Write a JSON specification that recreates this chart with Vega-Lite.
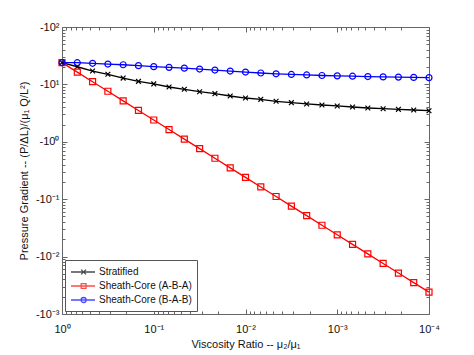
{
  "$schema": "https://vega.github.io/schema/vega-lite/v6.json",
  "width": 367,
  "height": 287,
  "autosize": {"type": "none"},
  "padding": {"left": 62, "top": 27, "right": 45, "bottom": 41},
  "background": "white",
  "config": {
    "font": "Liberation Sans",
    "view": {"stroke": null},
    "axis": {
      "grid": false,
      "domainColor": "#666",
      "tickColor": "#666",
      "labelColor": "#111",
      "labelFontSize": 11,
      "titleFontSize": 11,
      "titleFontWeight": "normal",
      "titleColor": "#111",
      "labelOverlap": false,
      "labelFlush": false,
      "labelBound": false
    }
  },
  "data": {
    "values": [
      {"ratio": 1, "gradient": -24, "series": "Stratified"},
      {"ratio": 0.681292, "gradient": -20.3, "series": "Stratified"},
      {"ratio": 0.464159, "gradient": -17.1, "series": "Stratified"},
      {"ratio": 0.316228, "gradient": -15.0, "series": "Stratified"},
      {"ratio": 0.215443, "gradient": -12.9, "series": "Stratified"},
      {"ratio": 0.14678, "gradient": -11.3, "series": "Stratified"},
      {"ratio": 0.1, "gradient": -10.2, "series": "Stratified"},
      {"ratio": 0.0681292, "gradient": -9.01, "series": "Stratified"},
      {"ratio": 0.0464159, "gradient": -8.22, "series": "Stratified"},
      {"ratio": 0.0316228, "gradient": -7.46, "series": "Stratified"},
      {"ratio": 0.0215443, "gradient": -6.89, "series": "Stratified"},
      {"ratio": 0.014678, "gradient": -6.28, "series": "Stratified"},
      {"ratio": 0.01, "gradient": -5.79, "series": "Stratified"},
      {"ratio": 0.00681292, "gradient": -5.5, "series": "Stratified"},
      {"ratio": 0.00464159, "gradient": -5.08, "series": "Stratified"},
      {"ratio": 0.00316228, "gradient": -4.8, "series": "Stratified"},
      {"ratio": 0.00215443, "gradient": -4.56, "series": "Stratified"},
      {"ratio": 0.0014678, "gradient": -4.38, "series": "Stratified"},
      {"ratio": 0.001, "gradient": -4.21, "series": "Stratified"},
      {"ratio": 0.000681292, "gradient": -4.04, "series": "Stratified"},
      {"ratio": 0.000464159, "gradient": -3.88, "series": "Stratified"},
      {"ratio": 0.000316228, "gradient": -3.77, "series": "Stratified"},
      {"ratio": 0.000215443, "gradient": -3.68, "series": "Stratified"},
      {"ratio": 0.00014678, "gradient": -3.58, "series": "Stratified"},
      {"ratio": 0.0001, "gradient": -3.48, "series": "Stratified"},
      {"ratio": 1, "gradient": -24, "series": "Sheath-Core (A-B-A)"},
      {"ratio": 0.681292, "gradient": -16.35, "series": "Sheath-Core (A-B-A)"},
      {"ratio": 0.464159, "gradient": -11.14, "series": "Sheath-Core (A-B-A)"},
      {"ratio": 0.316228, "gradient": -7.59, "series": "Sheath-Core (A-B-A)"},
      {"ratio": 0.215443, "gradient": -5.17, "series": "Sheath-Core (A-B-A)"},
      {"ratio": 0.14678, "gradient": -3.52, "series": "Sheath-Core (A-B-A)"},
      {"ratio": 0.1, "gradient": -2.4, "series": "Sheath-Core (A-B-A)"},
      {"ratio": 0.0681292, "gradient": -1.635, "series": "Sheath-Core (A-B-A)"},
      {"ratio": 0.0464159, "gradient": -1.114, "series": "Sheath-Core (A-B-A)"},
      {"ratio": 0.0316228, "gradient": -0.759, "series": "Sheath-Core (A-B-A)"},
      {"ratio": 0.0215443, "gradient": -0.517, "series": "Sheath-Core (A-B-A)"},
      {"ratio": 0.014678, "gradient": -0.352, "series": "Sheath-Core (A-B-A)"},
      {"ratio": 0.01, "gradient": -0.24, "series": "Sheath-Core (A-B-A)"},
      {"ratio": 0.00681292, "gradient": -0.1635, "series": "Sheath-Core (A-B-A)"},
      {"ratio": 0.00464159, "gradient": -0.1114, "series": "Sheath-Core (A-B-A)"},
      {"ratio": 0.00316228, "gradient": -0.0759, "series": "Sheath-Core (A-B-A)"},
      {"ratio": 0.00215443, "gradient": -0.0517, "series": "Sheath-Core (A-B-A)"},
      {"ratio": 0.0014678, "gradient": -0.0352, "series": "Sheath-Core (A-B-A)"},
      {"ratio": 0.001, "gradient": -0.024, "series": "Sheath-Core (A-B-A)"},
      {"ratio": 0.000681292, "gradient": -0.01635, "series": "Sheath-Core (A-B-A)"},
      {"ratio": 0.000464159, "gradient": -0.01114, "series": "Sheath-Core (A-B-A)"},
      {"ratio": 0.000316228, "gradient": -0.00759, "series": "Sheath-Core (A-B-A)"},
      {"ratio": 0.000215443, "gradient": -0.00517, "series": "Sheath-Core (A-B-A)"},
      {"ratio": 0.00014678, "gradient": -0.00352, "series": "Sheath-Core (A-B-A)"},
      {"ratio": 0.0001, "gradient": -0.0024, "series": "Sheath-Core (A-B-A)"},
      {"ratio": 1, "gradient": -24, "series": "Sheath-Core (B-A-B)"},
      {"ratio": 0.681292, "gradient": -23.9, "series": "Sheath-Core (B-A-B)"},
      {"ratio": 0.464159, "gradient": -23.3, "series": "Sheath-Core (B-A-B)"},
      {"ratio": 0.316228, "gradient": -22.6, "series": "Sheath-Core (B-A-B)"},
      {"ratio": 0.215443, "gradient": -22.0, "series": "Sheath-Core (B-A-B)"},
      {"ratio": 0.14678, "gradient": -21.2, "series": "Sheath-Core (B-A-B)"},
      {"ratio": 0.1, "gradient": -20.4, "series": "Sheath-Core (B-A-B)"},
      {"ratio": 0.0681292, "gradient": -19.8, "series": "Sheath-Core (B-A-B)"},
      {"ratio": 0.0464159, "gradient": -19.2, "series": "Sheath-Core (B-A-B)"},
      {"ratio": 0.0316228, "gradient": -18.5, "series": "Sheath-Core (B-A-B)"},
      {"ratio": 0.0215443, "gradient": -17.8, "series": "Sheath-Core (B-A-B)"},
      {"ratio": 0.014678, "gradient": -17.1, "series": "Sheath-Core (B-A-B)"},
      {"ratio": 0.01, "gradient": -16.4, "series": "Sheath-Core (B-A-B)"},
      {"ratio": 0.00681292, "gradient": -15.8, "series": "Sheath-Core (B-A-B)"},
      {"ratio": 0.00464159, "gradient": -15.3, "series": "Sheath-Core (B-A-B)"},
      {"ratio": 0.00316228, "gradient": -14.9, "series": "Sheath-Core (B-A-B)"},
      {"ratio": 0.00215443, "gradient": -14.6, "series": "Sheath-Core (B-A-B)"},
      {"ratio": 0.0014678, "gradient": -14.3, "series": "Sheath-Core (B-A-B)"},
      {"ratio": 0.001, "gradient": -14.1, "series": "Sheath-Core (B-A-B)"},
      {"ratio": 0.000681292, "gradient": -13.9, "series": "Sheath-Core (B-A-B)"},
      {"ratio": 0.000464159, "gradient": -13.7, "series": "Sheath-Core (B-A-B)"},
      {"ratio": 0.000316228, "gradient": -13.5, "series": "Sheath-Core (B-A-B)"},
      {"ratio": 0.000215443, "gradient": -13.4, "series": "Sheath-Core (B-A-B)"},
      {"ratio": 0.00014678, "gradient": -13.25, "series": "Sheath-Core (B-A-B)"},
      {"ratio": 0.0001, "gradient": -13.1, "series": "Sheath-Core (B-A-B)"}
    ]
  },
  "layer": [
    {
      "mark": {"type": "line", "strokeWidth": 1.3},
      "encoding": {
        "x": {
          "field": "ratio", "type": "quantitative",
          "scale": {"type": "log", "domain": [0.0001, 1], "reverse": true, "nice": false},
          "axis": {
            "orient": "bottom",
            "title": "Viscosity Ratio -- μ₂/μ₁",
            "titlePadding": 2,
            "values": [1, 0.9, 0.8, 0.7, 0.6, 0.5, 0.4, 0.3, 0.2, 0.1, 0.09, 0.08, 0.07, 0.06, 0.05, 0.04, 0.03, 0.02, 0.01, 0.009, 0.008, 0.007, 0.006, 0.005, 0.004, 0.003, 0.002, 0.001, 0.0009, 0.0008, 0.0007, 0.0006, 0.0005, 0.0004, 0.0003, 0.0002, 0.0001],
            "labelExpr": "abs(log(datum.value)/LN10 - round(log(datum.value)/LN10)) < 0.001 ? '10' + ['⁻⁴','⁻³','⁻²','⁻¹','⁰'][round(log(datum.value)/LN10) + 4] : ''",
            "labelPadding": 14,
            "tickSize": {"condition": {"test": "abs(log(datum.value)/LN10 - round(log(datum.value)/LN10)) < 0.001", "value": -5}, "value": -3}
          }
        },
        "y": {
          "field": "gradient", "type": "quantitative",
          "scale": {"type": "log", "domain": [-0.001, -100], "nice": false},
          "axis": {
            "orient": "left",
            "title": "Pressure Gradient -- (P/ΔL)/(μ₁ Q/L²)",
            "titlePadding": 6,
            "values": [-100, -90, -80, -70, -60, -50, -40, -30, -20, -10, -9, -8, -7, -6, -5, -4, -3, -2, -1, -0.9, -0.8, -0.7, -0.6, -0.5, -0.4, -0.3, -0.2, -0.1, -0.09, -0.08, -0.07, -0.06, -0.05, -0.04, -0.03, -0.02, -0.01, -0.009, -0.008, -0.007, -0.006, -0.005, -0.004, -0.003, -0.002, -0.001],
            "labelExpr": "abs(log(abs(datum.value))/LN10 - round(log(abs(datum.value))/LN10)) < 0.001 ? '-10' + ['⁻³','⁻²','⁻¹','⁰','¹','²'][round(log(abs(datum.value))/LN10) + 3] : ''",
            "labelPadding": 8,
            "tickSize": {"condition": {"test": "abs(log(abs(datum.value))/LN10 - round(log(abs(datum.value))/LN10)) < 0.001", "value": -5}, "value": -3}
          }
        },
        "color": {
          "field": "series", "type": "nominal",
          "scale": {"domain": ["Stratified", "Sheath-Core (A-B-A)", "Sheath-Core (B-A-B)"], "range": ["#000000", "#ff0000", "#0000ff"]},
          "legend": null
        },
        "detail": {"field": "series"}
      }
    },
    {
      "mark": {"type": "point", "filled": false, "strokeWidth": 1.2, "size": 36, "opacity": 1},
      "encoding": {
        "x": {"field": "ratio", "type": "quantitative", "axis": null},
        "y": {"field": "gradient", "type": "quantitative", "axis": null},
        "color": {
          "field": "series", "type": "nominal",
          "scale": {"domain": ["Stratified", "Sheath-Core (A-B-A)", "Sheath-Core (B-A-B)"], "range": ["#000000", "#ff0000", "#0000ff"]},
          "legend": null
        },
        "shape": {
          "field": "series", "type": "nominal",
          "scale": {"domain": ["Stratified", "Sheath-Core (A-B-A)", "Sheath-Core (B-A-B)"], "range": ["M-0.8,-0.8L0.8,0.8M-0.8,0.8L0.8,-0.8", "square", "circle"]},
          "legend": null
        }
      }
    },
    {
      "mark": {"type": "point", "opacity": 0},
      "encoding": {
        "x": {
          "field": "ratio", "type": "quantitative",
          "axis": {
            "orient": "top", "title": null, "labels": false,
            "values": [1, 0.9, 0.8, 0.7, 0.6, 0.5, 0.4, 0.3, 0.2, 0.1, 0.09, 0.08, 0.07, 0.06, 0.05, 0.04, 0.03, 0.02, 0.01, 0.009, 0.008, 0.007, 0.006, 0.005, 0.004, 0.003, 0.002, 0.001, 0.0009, 0.0008, 0.0007, 0.0006, 0.0005, 0.0004, 0.0003, 0.0002, 0.0001],
            "tickSize": {"condition": {"test": "abs(log(datum.value)/LN10 - round(log(datum.value)/LN10)) < 0.001", "value": -5}, "value": -3}
          }
        },
        "y": {
          "field": "gradient", "type": "quantitative",
          "axis": {
            "orient": "right", "title": null, "labels": false,
            "values": [-100, -90, -80, -70, -60, -50, -40, -30, -20, -10, -9, -8, -7, -6, -5, -4, -3, -2, -1, -0.9, -0.8, -0.7, -0.6, -0.5, -0.4, -0.3, -0.2, -0.1, -0.09, -0.08, -0.07, -0.06, -0.05, -0.04, -0.03, -0.02, -0.01, -0.009, -0.008, -0.007, -0.006, -0.005, -0.004, -0.003, -0.002, -0.001],
            "tickSize": {"condition": {"test": "abs(log(abs(datum.value))/LN10 - round(log(abs(datum.value))/LN10)) < 0.001", "value": -5}, "value": -3}
          }
        }
      }
    },
    {
      "transform": [{"filter": "false"}],
      "mark": {"type": "point", "filled": false, "strokeWidth": 1.3},
      "encoding": {
        "color": {
          "field": "series", "type": "nominal",
          "scale": {"domain": ["Stratified", "Sheath-Core (A-B-A)", "Sheath-Core (B-A-B)"], "range": ["#000000", "#ff0000", "#0000ff"]},
          "legend": {
            "title": null, "orient": "bottom-left", "offset": 3, "padding": 5,
            "strokeColor": "#555", "fillColor": "white",
            "symbolSize": 144, "symbolStrokeWidth": 1.3, "symbolFillColor": "transparent",
            "labelFontSize": 10, "labelColor": "#111", "labelOffset": 15, "rowPadding": 2
          }
        },
        "shape": {
          "field": "series", "type": "nominal",
          "scale": {"domain": ["Stratified", "Sheath-Core (A-B-A)", "Sheath-Core (B-A-B)"], "range": [
            "M-1,0H3M0.7,-0.4L1.5,0.4M0.7,0.4L1.5,-0.4",
            "M-1,0H3M0.7,-0.4H1.5V0.4H0.7Z",
            "M-1,0H3M1.52,0A0.42,0.42,0,1,1,0.68,0A0.42,0.42,0,1,1,1.52,0Z"
          ]},
          "legend": {
            "title": null, "orient": "bottom-left", "offset": 3, "padding": 5,
            "strokeColor": "#555", "fillColor": "white",
            "symbolSize": 144, "symbolStrokeWidth": 1.3, "symbolFillColor": "transparent",
            "labelFontSize": 10, "labelColor": "#111", "labelOffset": 15, "rowPadding": 2
          }
        }
      }
    }
  ],
  "resolve": {
    "scale": {"color": "independent", "shape": "independent"},
    "axis": {"x": "independent", "y": "independent"}
  }
}
